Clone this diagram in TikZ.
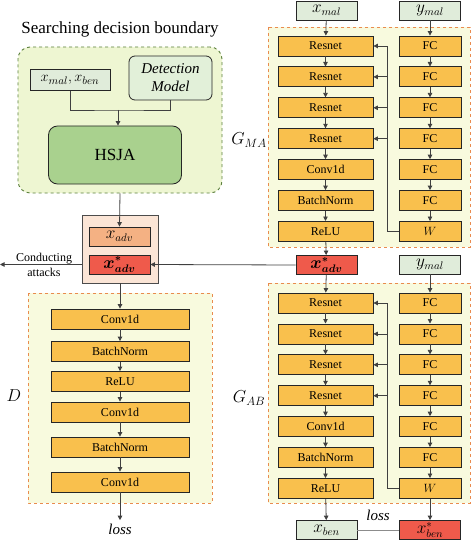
\documentclass[tikz,border=0pt]{standalone}
\usepackage{bm}
\usepackage{fontspec}
\setmainfont{Liberation Serif}
\usetikzlibrary{arrows.meta,positioning,calc}
\definecolor{blockfill}{HTML}{F9C04D}
\definecolor{redfill}{HTML}{EF5A4B}
\definecolor{datafill}{HTML}{E0ECDA}
\definecolor{detfill}{HTML}{E2F0D9}
\definecolor{hsjafill}{HTML}{A9D18E}
\definecolor{searchfill}{HTML}{EEF6D2}
\definecolor{searchline}{HTML}{5B7F3C}
\definecolor{gfill}{HTML}{F8FADE}
\definecolor{gline}{HTML}{E98B4E}
\definecolor{peach}{HTML}{FBE5D6}
\definecolor{salmon}{HTML}{F4B183}
\newcommand{\ColL}{325.5}
\newcommand{\ColR}{430}
\newcommand{\FbX}{387}
\newcommand{\RowGap}{30.9}
\newcommand{\MaTop}{46}
\newcommand{\AbTop}{303}

\begin{document}
\begin{tikzpicture}[x=1pt,y=-1pt,
  layer/.style={draw=black!85, line width=0.8pt, fill=blockfill, minimum height=20, inner sep=0pt, font=\fontsize{12}{14}\selectfont},
  datum/.style={draw=black!85, line width=0.8pt, fill=datafill, minimum width=61, minimum height=19, inner sep=0pt, font=\fontsize{16}{16}\selectfont},
  fakebox/.style={datum, fill=redfill},
  gbox/.style={draw=gline, dashed, line width=0.9pt, fill=gfill},
  tag/.style={font=\fontsize{18}{18}\selectfont},
  arr/.style={-{Triangle[length=4.5pt,width=4.5pt]}, line width=0.8pt, draw=black!75},
  line/.style={line width=0.8pt, draw=black!75}
]
\useasboundingbox (0,0) rectangle (474,540);

% ----- Searching decision boundary -----
\node[font=\fontsize{17}{18}\selectfont] (title) at (120,29) {Searching decision boundary};
\node[draw=searchline, dashed, line width=0.9pt, fill=searchfill, rounded corners=12pt,
  minimum width=204, minimum height=146] (search) at (120,120) {};
\node[datum, minimum width=80, minimum height=21, font=\fontsize{15}{15}\selectfont] (xin) at (70,80) {$x_{mal}, x_{ben}$};
\node[draw=black!85, line width=0.8pt, fill=detfill, rounded corners=6pt, minimum width=83,
  minimum height=44, align=center, font=\itshape\fontsize{15}{18}\selectfont] (det) at (170.5,78) {Detection\\Model};
\node[draw=black!85, line width=0.8pt, fill=hsjafill, rounded corners=9pt, minimum width=133,
  minimum height=58, font=\fontsize{17}{18}\selectfont] (hsja) at (115,155) {HSJA};
\coordinate (join) at (118,110);
\draw[line] (xin.south) |- (join) -| (det.south);
\draw[arr] (join) -- (join |- hsja.north);

% ----- Adversarial samples -----
\node[draw=black!70, line width=0.8pt, fill=peach, minimum width=76, minimum height=68] (advbox) at (120,249) {};
\node[datum, fill=salmon] (adv) at (119.5,236.5) {$x_{adv}$};
\node[fakebox] (advstar) at (119.5,264.5) {$\bm{x^{*}_{adv}}$};
\draw[arr] (search.south) -- (adv.north);
\coordinate (attackend) at (0,264.5);
\draw[arr] (advstar -| advbox.west) -- (attackend);
\node[align=center, font=\fontsize{12}{15}\selectfont] (attack) at (44,265) {Conducting\\attacks};

% ----- Discriminator D -----
\draw[gbox] (28,293) rectangle (212,503);
\node[tag] (dtag) at (14,396) {$D$};
\node[layer, minimum width=138] (d1) at (120,319) {Conv1d};
\node[layer, minimum width=138] (d2) at (120,351.5) {BatchNorm};
\node[layer, minimum width=138] (d3) at (120,381.5) {ReLU};
\node[layer, minimum width=138] (d4) at (120,412) {Conv1d};
\node[layer, minimum width=138] (d5) at (120,447) {BatchNorm};
\node[layer, minimum width=138] (d6) at (120,482) {Conv1d};
\node[font=\itshape\fontsize{15}{16}\selectfont] (dloss) at (120,529) {loss};
\draw[arr] (advbox.south) -- (d1.north);
\foreach \a/\b in {d1/d2, d2/d3, d3/d4, d4/d5, d5/d6}
  \draw[arr] (\a) -- (\b);
\draw[arr] (d6.south) -- (dloss.north);

% ----- Generator G_MA -----
\draw[gbox] (268,27) rectangle (470,247);
\node[tag] (matag) at (249,140) {$G_{MA}$};
\node[datum] (max) at (326.5,10.5) {$x_{mal}$};
\node[datum] (may) at (\ColR,10.5) {$y_{mal}$};
\foreach \name/\txt [count=\i from 0] in {r1/Resnet, r2/Resnet, r3/Resnet, r4/Resnet, conv/Conv1d, bn/BatchNorm, relu/ReLU}
  \node[layer, minimum width=95] (ma-\name) at (\ColL, \MaTop+\i*\RowGap) {\txt};
\foreach \name/\txt [count=\i from 0] in {fc1/FC, fc2/FC, fc3/FC, fc4/FC, fc5/FC, fc6/FC, w/$W$}
  \node[layer, minimum width=62] (ma-\name) at (\ColR, \MaTop+\i*\RowGap) {\txt};
\draw[arr] (max) -- (ma-r1);
\draw[arr] (may) -- (ma-fc1);
\foreach \a/\b in {r1/r2, r2/r3, r3/r4, r4/conv, conv/bn, bn/relu, fc1/fc2, fc2/fc3, fc3/fc4, fc4/fc5, fc5/fc6, fc6/w}
  \draw[arr] (ma-\a) -- (ma-\b);
\coordinate (ma-fb) at (\FbX, \MaTop);
\draw[arr] (ma-w.west) -| (ma-fb) -- (ma-r1.east);
\foreach \k in {r2, r3, r4}
  \draw[arr] (ma-\k.east -| ma-fb) -- (ma-\k.east);
\node[fakebox] (maout) at (326.5,265) {$\bm{x^{*}_{adv}}$};
\draw[arr] (ma-relu) -- (maout);
\draw[arr] (maout.west) -- (advstar.east);

% ----- Generator G_AB -----
\draw[gbox] (268,283) rectangle (470,503);
\node[tag] (abtag) at (249,398) {$G_{AB}$};
\node[datum] (aby) at (\ColR,264.5) {$y_{mal}$};
\foreach \name/\txt [count=\i from 0] in {r1/Resnet, r2/Resnet, r3/Resnet, r4/Resnet, conv/Conv1d, bn/BatchNorm, relu/ReLU}
  \node[layer, minimum width=95] (ab-\name) at (\ColL, \AbTop+\i*\RowGap) {\txt};
\foreach \name/\txt [count=\i from 0] in {fc1/FC, fc2/FC, fc3/FC, fc4/FC, fc5/FC, fc6/FC, w/$W$}
  \node[layer, minimum width=62] (ab-\name) at (\ColR, \AbTop+\i*\RowGap) {\txt};
\draw[arr] (maout) -- (ab-r1);
\draw[arr] (aby) -- (ab-fc1);
\foreach \a/\b in {r1/r2, r2/r3, r3/r4, r4/conv, conv/bn, bn/relu, fc1/fc2, fc2/fc3, fc3/fc4, fc4/fc5, fc5/fc6, fc6/w}
  \draw[arr] (ab-\a) -- (ab-\b);
\coordinate (ab-fb) at (\FbX, \AbTop);
\draw[arr] (ab-w.west) -| (ab-fb) -- (ab-r1.east);
\foreach \k in {r2, r3, r4}
  \draw[arr] (ab-\k.east -| ab-fb) -- (ab-\k.east);

% ----- Outputs -----
\node[datum] (xben) at (326.5,530) {$x_{ben}$};
\node[fakebox] (xbenstar) at (\ColR,530) {$x^{*}_{ben}$};
\draw[arr] (ab-relu) -- (xben);
\draw[arr] (ab-w) -- (xbenstar);
\draw[line, draw=black!45] (xben.east) -- (xbenstar.west);
\node[font=\itshape\fontsize{15}{16}\selectfont] (gloss) at (378,515) {loss};

\end{tikzpicture}
\end{document}
